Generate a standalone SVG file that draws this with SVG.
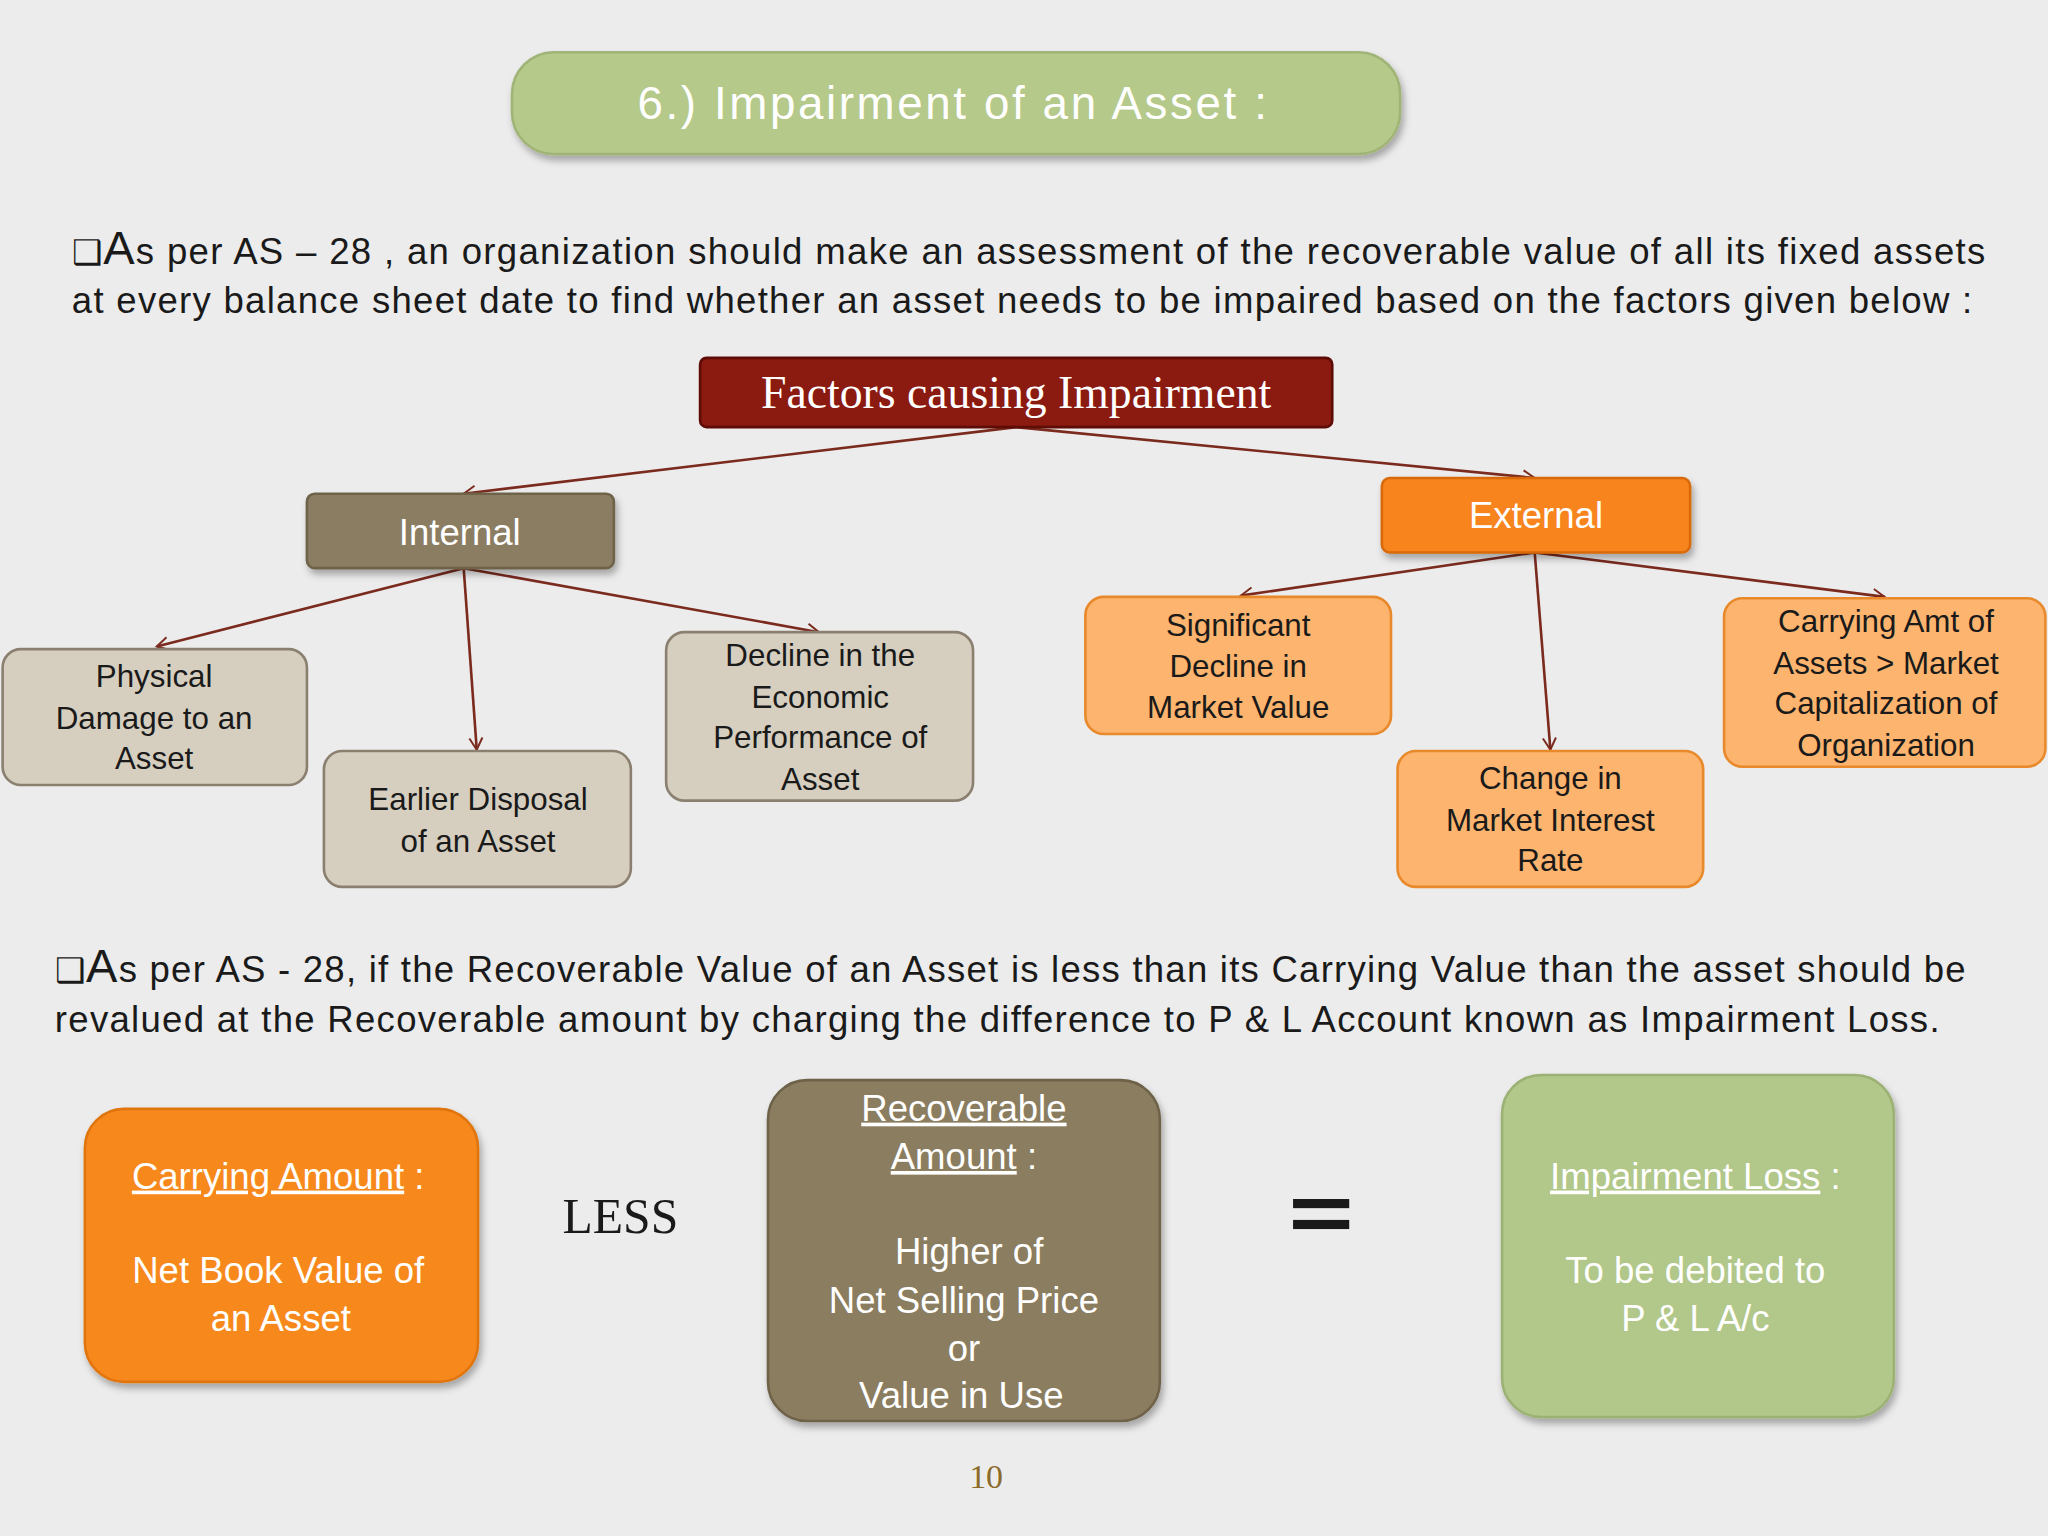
<svg xmlns="http://www.w3.org/2000/svg" width="2048" height="1536" viewBox="0 0 2048 1536">
<defs>
<filter id="sh" x="-10%" y="-10%" width="125%" height="130%"><feDropShadow dx="2" dy="4" stdDeviation="3" flood-color="#000" flood-opacity="0.3"/></filter>
<marker id="ar" viewBox="0 0 12 12" refX="10" refY="6" markerWidth="12" markerHeight="12" markerUnits="userSpaceOnUse" orient="auto"><path d="M1,1 L10,6 L1,11" fill="none" stroke="#7b2a1e" stroke-width="1.5"/></marker>
</defs>
<style>
.t{font-family:"Liberation Sans",Arial,sans-serif;}
.w{fill:#fff;}
.k{fill:#1a1a1a;}
.c{stroke:#7b2a1e;stroke-width:2;fill:none;marker-end:url(#ar);}
.ib{fill:#d6cfc0;stroke:#8b8070;stroke-width:2;}
.eb{fill:#fdb46e;stroke:#e88a2c;stroke-width:2;}
</style>
<rect width="2048" height="1536" fill="#ececec"/>
<g transform="scale(1.30612)">
<g id="title"><rect x="392" y="40" width="680" height="78" rx="32" fill="#b5c98a" stroke="#a0b477" stroke-width="2" filter="url(#sh)"/>
<text x="730" y="91" class="t w" font-size="35" text-anchor="middle" letter-spacing="2">6.) Impairment of an Asset :</text></g>
<g id="para1" class="t k" font-size="28">
<text x="55" y="202" textLength="1465" lengthAdjust="spacing"><tspan font-size="26">❑</tspan><tspan font-size="36">A</tspan>s per AS – 28 , an organization should make an assessment of the recoverable value of all its fixed assets</text>
<text x="55" y="240" textLength="1455" lengthAdjust="spacing">at every balance sheet date to find whether an asset needs to be impaired based on the factors given below :</text></g>
<g id="connectors">
<path class="c" d="M778,327 L355,378"/>
<path class="c" d="M778,327 L1175,366"/>
<path class="c" d="M355,435 L120,495"/>
<path class="c" d="M355,435 L365,574"/>
<path class="c" d="M355,435 L627,484"/>
<path class="c" d="M1175,423 L950,456"/>
<path class="c" d="M1175,423 L1187,574"/>
<path class="c" d="M1175,423 L1443,457"/>
</g>
<g id="factors"><rect x="536" y="274" width="484" height="53" rx="5" fill="#8b1a10" stroke="#5e0c06" stroke-width="2"/>
<text x="778" y="312" font-family="Liberation Serif,serif" font-size="35" class="w" text-anchor="middle">Factors causing Impairment</text></g>
<g id="internal"><rect x="235" y="378" width="235" height="57" rx="6" fill="#8b7d62" stroke="#6e624a" stroke-width="2" filter="url(#sh)"/>
<text x="352" y="417" class="t w" font-size="28" text-anchor="middle">Internal</text></g>
<g id="external"><rect x="1058" y="366" width="236" height="57" rx="6" fill="#f7841a" stroke="#d86a08" stroke-width="2" filter="url(#sh)"/>
<text x="1176" y="404" class="t w" font-size="28" text-anchor="middle">External</text></g>
<g class="t k" font-size="24" text-anchor="middle">
<g id="physical"><rect class="ib" x="2" y="497" width="233" height="104" rx="14"/><text x="118" y="526">Physical</text><text x="118" y="558">Damage to an</text><text x="118" y="589">Asset</text></g>
<g id="earlier"><rect class="ib" x="248" y="575" width="235" height="104" rx="14"/><text x="366" y="620">Earlier Disposal</text><text x="366" y="652">of an Asset</text></g>
<g id="decline"><rect class="ib" x="510" y="484" width="235" height="129" rx="14"/><text x="628" y="510">Decline in the</text><text x="628" y="542">Economic</text><text x="628" y="573">Performance of</text><text x="628" y="605">Asset</text></g>
<g id="significant"><rect class="eb" x="831" y="457" width="234" height="105" rx="14"/><text x="948" y="487">Significant</text><text x="948" y="518">Decline in</text><text x="948" y="550">Market Value</text></g>
<g id="change"><rect class="eb" x="1070" y="575" width="234" height="104" rx="14"/><text x="1187" y="604">Change in</text><text x="1187" y="636">Market Interest</text><text x="1187" y="667">Rate</text></g>
<g id="carrying"><rect class="eb" x="1320" y="458" width="246" height="129" rx="14"/><text x="1444" y="484">Carrying Amt of</text><text x="1444" y="516">Assets &gt; Market</text><text x="1444" y="547">Capitalization of</text><text x="1444" y="579">Organization</text></g>
</g>
<g id="para2" class="t k" font-size="28">
<text x="42" y="752" textLength="1463" lengthAdjust="spacing"><tspan font-size="26">❑</tspan><tspan font-size="36">A</tspan>s per AS - 28, if the Recoverable Value of an Asset is less than its Carrying Value than the asset should be</text>
<text x="42" y="790" textLength="1443" lengthAdjust="spacing">revalued at the Recoverable amount by charging the difference to P &amp; L Account known as Impairment Loss.</text></g>
<g id="carryingAmount"><rect x="65" y="849" width="301" height="209" rx="30" fill="#f7891e" stroke="#e07510" stroke-width="2" filter="url(#sh)"/>
<g class="t w" font-size="28" text-anchor="middle"><text x="213" y="910"><tspan text-decoration="underline">Carrying Amount</tspan> :</text><text x="213" y="982">Net Book Value of</text><text x="215" y="1019">an Asset</text></g></g>
<text id="less" x="475" y="944" font-family="Liberation Serif,serif" font-size="38" fill="#1a1a1a" text-anchor="middle">LESS</text>
<g id="recoverable"><rect x="588" y="827" width="300" height="261" rx="30" fill="#8b7d5e" stroke="#6e624a" stroke-width="2" filter="url(#sh)"/>
<g class="t w" font-size="28" text-anchor="middle"><text x="738" y="858" text-decoration="underline">Recoverable</text><text x="738" y="895"><tspan text-decoration="underline">Amount</tspan> :</text><text x="742" y="968">Higher  of</text><text x="738" y="1005">Net Selling Price</text><text x="738" y="1042">or</text><text x="736" y="1078">Value in Use</text></g></g>
<g id="equals" fill="#1a1a1a"><rect x="990" y="918" width="43" height="7"/><rect x="990" y="934" width="43" height="7"/></g>
<g id="impairmentLoss"><rect x="1150" y="823" width="300" height="262" rx="30" fill="#b2c78a" stroke="#9cb274" stroke-width="2" filter="url(#sh)"/>
<g class="t w" font-size="28" text-anchor="middle"><text x="1298" y="910"><tspan text-decoration="underline">Impairment Loss</tspan> :</text><text x="1298" y="982">To be debited to</text><text x="1298" y="1019">P &amp; L A/c</text></g></g>
<text x="755" y="1139" font-family="Liberation Serif,serif" font-size="26" fill="#8b6a2a" text-anchor="middle">10</text>
</g>
</svg>
